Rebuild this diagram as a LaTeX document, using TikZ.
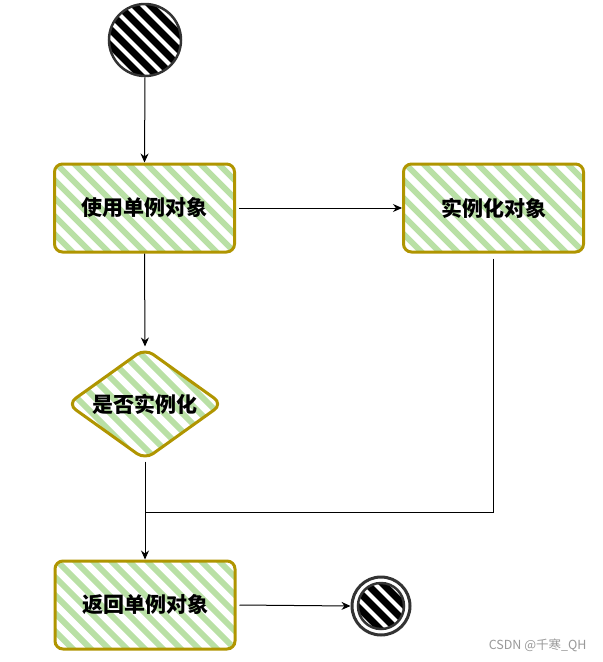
\documentclass[tikz,border=0pt]{standalone}
\usepackage{fontspec}
\setmainfont{Noto Sans CJK SC}
\usetikzlibrary{arrows.meta,shapes.geometric}
\definecolor{hatchgreen}{HTML}{B9E0A5}
\definecolor{boxborder}{HTML}{B09500}
\definecolor{ringgray}{HTML}{333333}
\tikzset{
  greenhatch/.style={path picture={
    \foreach \i in {-260,-242,...,260}
      \draw[hatchgreen,line width=6pt,line cap=round]
        ([shift={(\i-130,-130)}]path picture bounding box.center) -- ++(260,260);
  }},
  blackhatch/.style={path picture={
    \foreach \i in {-120,-104,...,120}
      \draw[black,line width=7pt,line cap=round]
        ([shift={(\i-60,-60)}]path picture bounding box.center) -- ++(120,120);
  }},
  procbox/.style={draw=boxborder,line width=3pt,rounded corners=8pt,fill=white,
    minimum width=180pt,minimum height=88pt,greenhatch,
    font=\fontsize{21}{25}\selectfont\bfseries},
  decbox/.style={diamond,draw=boxborder,line width=3pt,rounded corners=10pt,fill=white,
    minimum width=156pt,minimum height=112pt,inner sep=0pt,aspect=1.38,greenhatch,
    font=\fontsize{21}{25}\selectfont\bfseries},
  startnode/.style={circle,draw=ringgray,line width=2.5pt,fill=white,
    minimum size=72pt,inner sep=0pt,blackhatch},
  endinner/.style={circle,draw=ringgray,line width=2.5pt,fill=white,
    minimum size=46pt,inner sep=0pt,blackhatch},
  endouter/.style={circle,draw=ringgray,line width=3pt,minimum size=58pt,inner sep=0pt},
  conn/.style={black,line width=1pt},
  arr/.style={conn,-{Stealth[length=9pt,width=8pt]}},
}
\begin{document}
\begin{tikzpicture}[x=1pt,y=-1pt]
\useasboundingbox[fill=white] (0,0) rectangle (603,662);
\node[startnode] (s) at (145,40) {};
\node[procbox] (b1) at (144.5,208) {使用单例对象};
\node[procbox] (b2) at (493.5,208) {实例化对象};
\node[decbox] (d) at (145,404) {是否实例化};
\node[procbox] (b3) at (145,605) {返回单例对象};
\node[endinner] (ei) at (381,606) {};
\node[endouter] (e) at (381,606) {};
\coordinate (j) at (145,512);
\node[text=gray!80,font=\fontsize{12.5}{14}\selectfont,anchor=east] (wm) at (590,645) {CSDN @千寒\_QH};

\draw[arr] (s.south) -- (b1.north);
\draw[arr] ([xshift=3pt]b1.east) -- (b2.west);
\draw[arr] (b1.south) -- (d.north);
\draw[arr] (d.south) -- (b3.north);
\draw[conn] ([yshift=-5pt]b2.south) -- (b2.south |- j) -- (j);
\draw[arr] ([xshift=3pt]b3.east) -- (e.west);
\end{tikzpicture}
\end{document}
